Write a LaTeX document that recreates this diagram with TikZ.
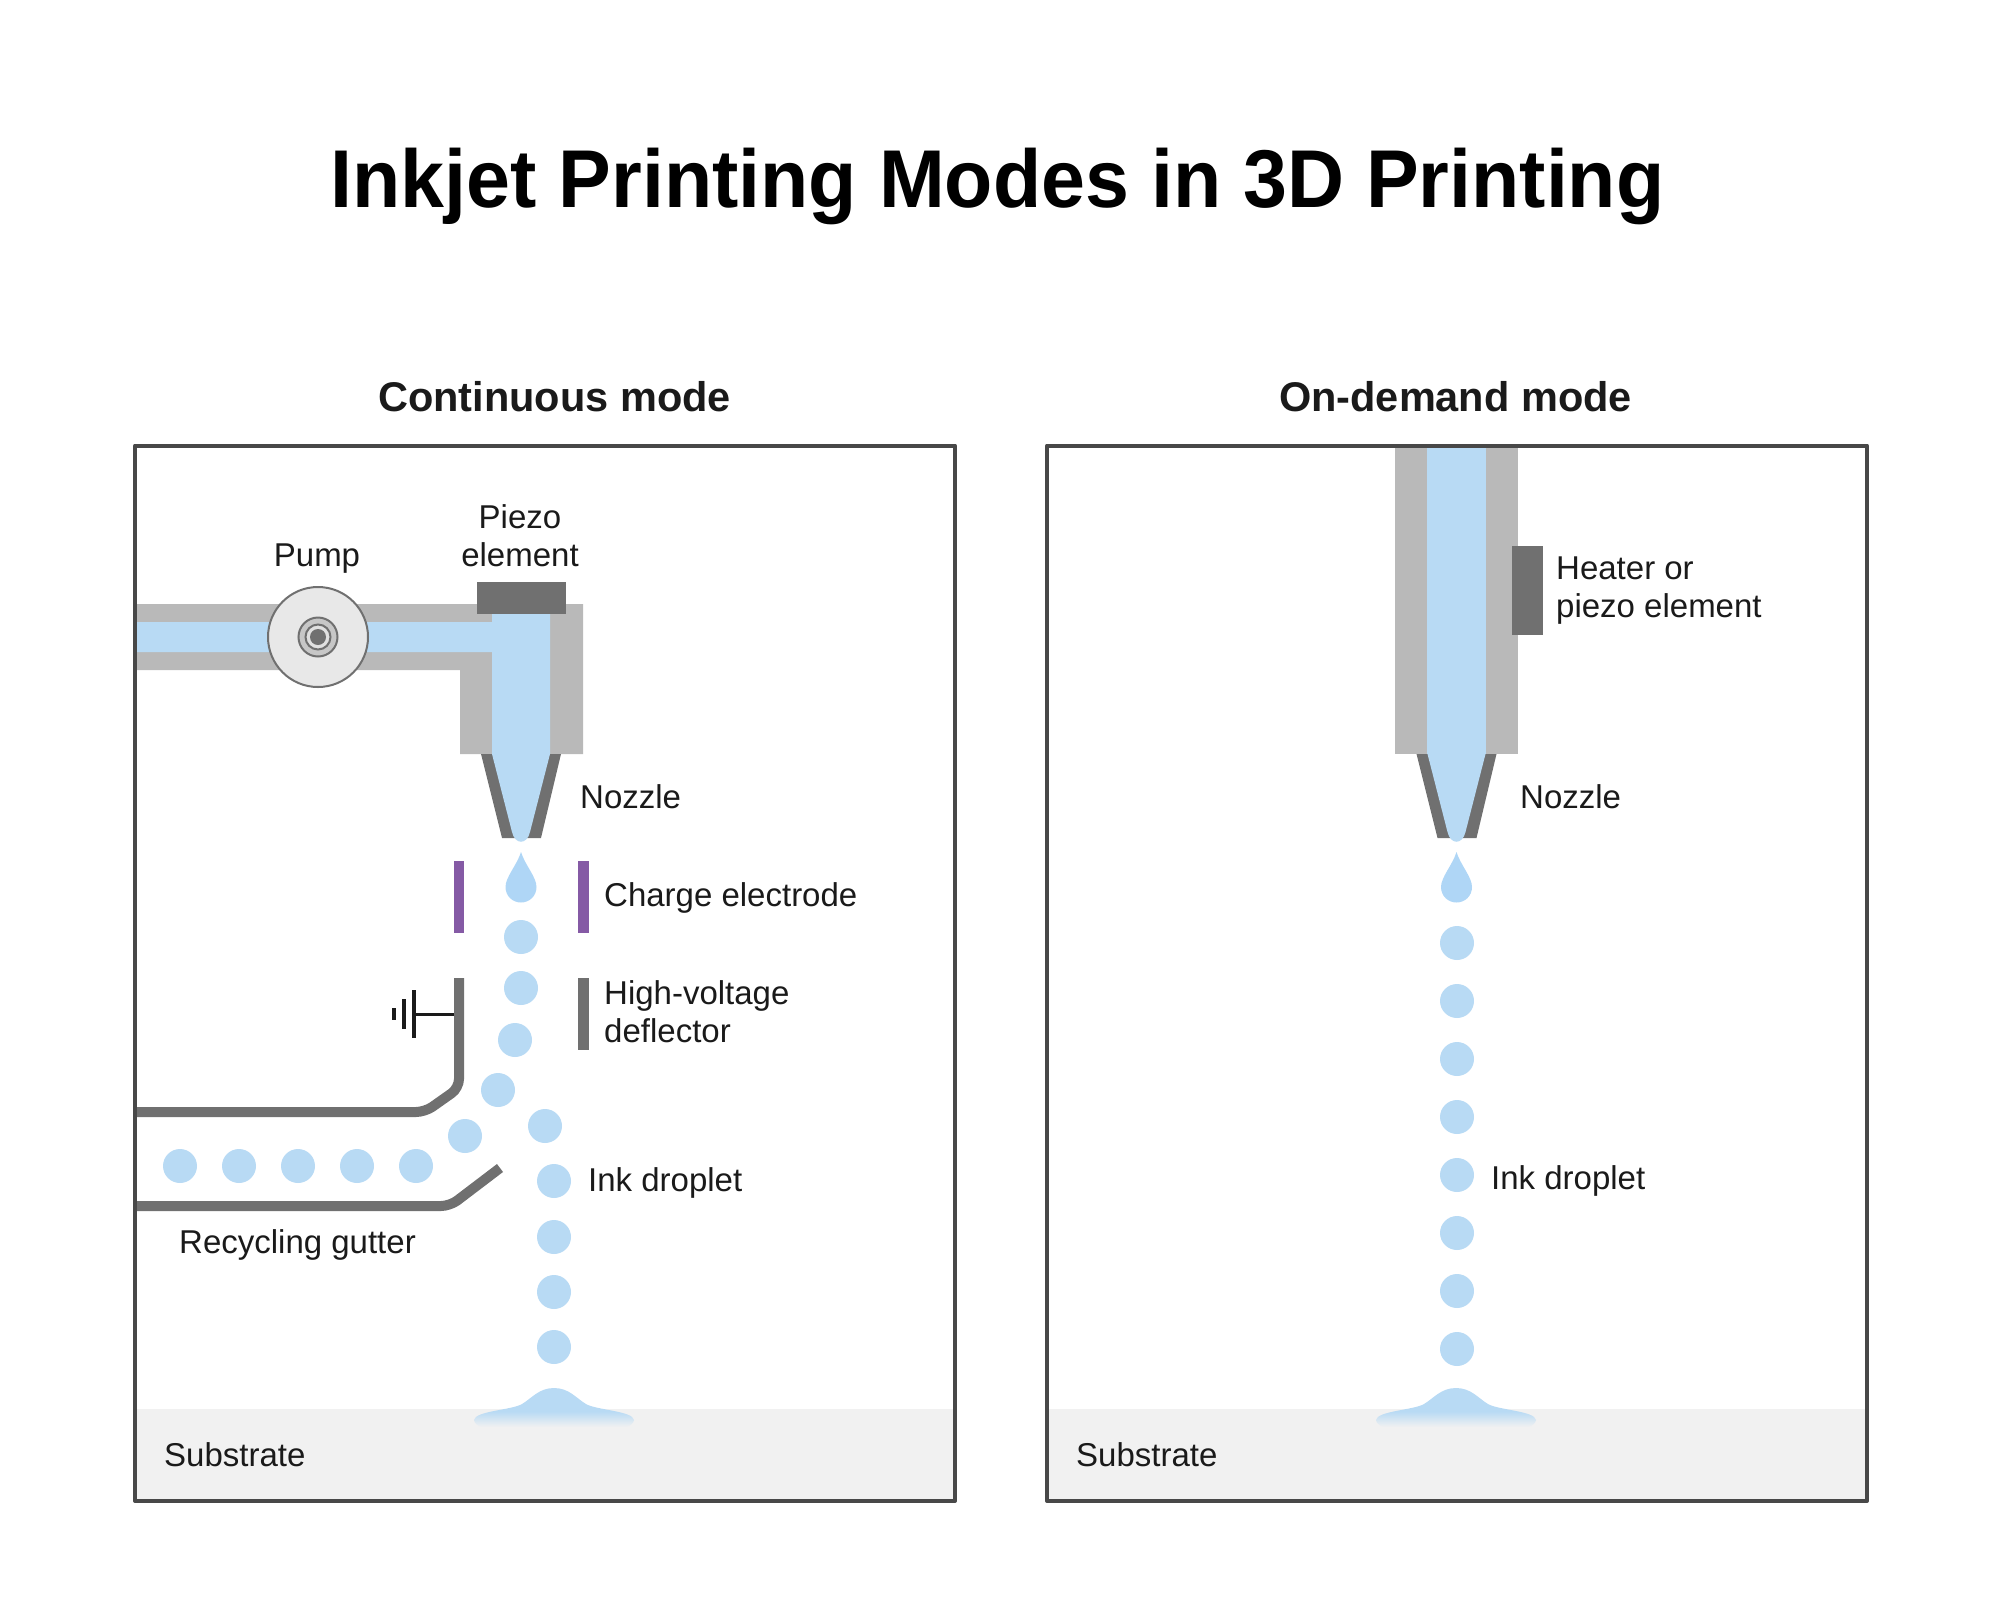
\documentclass[tikz,border=0pt]{standalone}
\usepackage{fontspec}
\setmainfont{Liberation Sans}
\newfontfamily\titlefont[FakeStretch=0.963]{Liberation Sans}
\definecolor{inkblue}{HTML}{B8DAF4}
\definecolor{dropblue}{HTML}{AFD6F6}
\definecolor{shellgray}{HTML}{B9B9B9}
\definecolor{darkgray}{HTML}{707070}
\definecolor{framegray}{HTML}{484848}
\definecolor{basegray}{HTML}{F1F1F1}
\definecolor{chargepurple}{HTML}{855AA5}
\definecolor{labelblack}{HTML}{1A1A1A}
\pgfdeclareverticalshading{spreadfade}{100bp}{color(0bp)=(basegray); color(25bp)=(basegray); color(45bp)=(inkblue); color(100bp)=(inkblue)}

\begin{document}
\begin{tikzpicture}[
x=1pt, y=-1pt,
titletext/.style={anchor=base, inner sep=0pt, text=black, font=\titlefont\bfseries\fontsize{82}{90}\selectfont},
headtext/.style={anchor=base, inner sep=0pt, text=labelblack, font=\bfseries\fontsize{41.5}{46}\selectfont},
labeltext/.style={anchor=base west, inner sep=0pt, text=labelblack, align=left, font=\fontsize{33}{38}\selectfont},
droplet/.style={fill=inkblue, draw=none},
gutterline/.style={draw=darkgray, line width=10pt, rounded corners=9pt},
]

\useasboundingbox (0,0) rectangle (2000,1623);

% Substrate
\fill[basegray] (135,1409) rectangle (955,1501);
\fill[basegray] (1047,1409) rectangle (1867,1501);

% Continuous mode: pipe, pump, piezo
\fill[shellgray] (135,604) -- (583,604) -- (583,754) -- (460,754) -- (460,670) -- (135,670) -- cycle;
\fill[inkblue] (135,622) -- (492,622) -- (492,610) -- (550,610) -- (550,754) -- (492,754) -- (492,652) -- (135,652) -- cycle;
\fill[darkgray] (477,582) rectangle (566,614);
\draw[darkgray, line width=2pt, fill=black!9] (318,637) circle (50pt);
\draw[darkgray, line width=2pt, fill=black!22] (318,637) circle (19.5pt);
\draw[darkgray, line width=2pt, fill=black!12] (318,637) circle (12.5pt);
\fill[darkgray] (318,637) circle (8pt);

% On-demand mode: head and heater
\fill[shellgray] (1395,447) rectangle (1518,754);
\fill[inkblue] (1427,447) rectangle (1486,754);
\fill[darkgray] (1512,546) rectangle (1543,635);

% Nozzle, first drop and spread drop of each mode
\foreach \cx/\sx in {521/554, 1456.5/1456} {
  \fill[darkgray] (\cx-40,754) -- (\cx+40,754) -- (\cx+20,838) -- (\cx-19,838) -- cycle;
  \fill[inkblue] (\cx-29,754) -- (\cx+29,754) -- (\cx+9,832) .. controls (\cx+6,845) and (\cx-6,845) .. (\cx-9,832) -- cycle;
  \fill[dropblue] (\cx,852) .. controls (\cx-4,865) and (\cx-15.5,877) .. (\cx-15.5,887)
    .. controls (\cx-15.5,896) and (\cx-8.5,902.5) .. (\cx,902.5)
    .. controls (\cx+8.5,902.5) and (\cx+15.5,896) .. (\cx+15.5,887)
    .. controls (\cx+15.5,877) and (\cx+4,865) .. (\cx,852) -- cycle;
  \shade[shading=spreadfade] (\sx,1388) .. controls (\sx+15,1388) and (\sx+22,1398) .. (\sx+32,1404)
    .. controls (\sx+42,1410) and (\sx+79,1411) .. (\sx+80,1420)
    .. controls (\sx+80,1423) and (\sx+75,1427) .. (\sx+72,1427) -- (\sx-72,1427)
    .. controls (\sx-75,1427) and (\sx-80,1423) .. (\sx-80,1420)
    .. controls (\sx-79,1411) and (\sx-42,1410) .. (\sx-32,1404)
    .. controls (\sx-22,1398) and (\sx-15,1388) .. (\sx,1388) -- cycle;
}

% Droplets
\foreach \dx/\dy in {521/937, 521/988, 515/1040, 498/1090, 465/1136, 416/1166, 357/1166, 298/1166, 239/1166, 180/1166,
  545/1126, 554/1181, 554/1237, 554/1292, 554/1347} {
  \fill[droplet] (\dx,\dy) circle (17pt);
}
\foreach \dy in {943,1001,...,1349} {
  \fill[droplet] (1457,\dy) circle (17pt);
}

% Electrodes and deflector
\fill[chargepurple] (454,861) rectangle (464,933);
\fill[chargepurple] (578,861) rectangle (589,933);
\fill[darkgray] (578,978) rectangle (589,1050);

% Recycling gutter
\draw[gutterline] (459,978) -- (459,1088) -- (425,1112) -- (135,1112);
\draw[gutterline] (500,1168) -- (450,1206) -- (135,1206);

% Ground symbol
\coordinate (groundstem) at (454,1014);
\coordinate (groundbar) at (414,1014);
\draw[labelblack, line width=3pt] (groundstem) -- (groundbar);
\draw[labelblack, line width=3.5pt] (414,990) -- (414,1038);
\draw[labelblack, line width=3.5pt] (404,999) -- (404,1029);
\draw[labelblack, line width=3.5pt] (394,1008) -- (394,1020);

% Frames
\draw[framegray, line width=4pt, line join=round] (135,445.5) rectangle (955,1501);
\draw[framegray, line width=4pt, line join=round] (1047,445.5) rectangle (1867,1501);

% Titles
\node[titletext] (title) at (997.5,207) {Inkjet Printing Modes in 3D Printing};
\node[headtext] (headcont) at (554.5,411) {Continuous mode};
\node[headtext] (headdemand) at (1455.5,411) {On-demand mode};

% Labels, continuous mode
\node[labeltext, anchor=base] (pump) at (317,566) {Pump};
\node[labeltext, anchor=base, align=center] (piezo) at (520,566) {Piezo\\element};
\node[labeltext] (nozzlecont) at (580,808) {Nozzle};
\node[labeltext] (charge) at (604,906) {Charge electrode};
\node[labeltext] (deflector) at (604,1042) {High-voltage\\deflector};
\node[labeltext] (inkcont) at (588,1191) {Ink droplet};
\node[labeltext] (gutter) at (179,1253) {Recycling gutter};
\node[labeltext] (basecont) at (164,1466) {Substrate};

% Labels, on-demand mode
\node[labeltext] (heater) at (1556,617) {Heater or\\piezo element};
\node[labeltext] (nozzledemand) at (1520,808) {Nozzle};
\node[labeltext] (inkdemand) at (1491,1189) {Ink droplet};
\node[labeltext] (basedemand) at (1076,1466) {Substrate};

\end{tikzpicture}
\end{document}
